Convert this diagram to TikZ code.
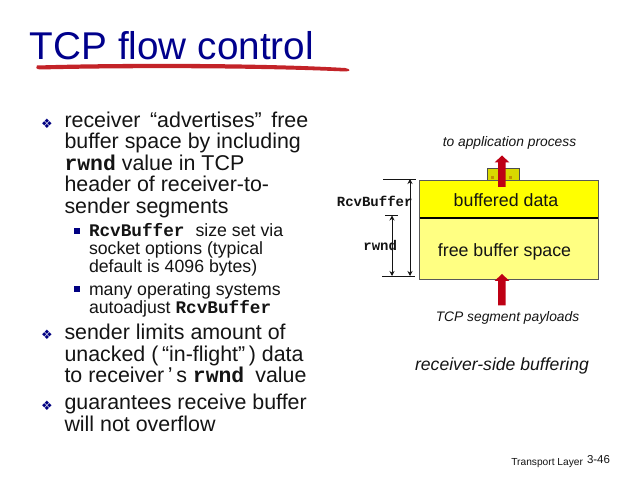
\documentclass[tikz,border=0pt]{standalone}
\usepackage{fontspec}
\setmainfont{Liberation Sans}
\setmonofont{Liberation Mono}
\newfontfamily\symfont{DejaVu Sans}
\usetikzlibrary{arrows.meta}
\definecolor{titleblue}{RGB}{0,0,140}
\definecolor{bulletblue}{RGB}{0,0,130}
\definecolor{underl}{RGB}{195,35,40}
\definecolor{fatred}{RGB}{190,0,20}
\definecolor{bufyellow}{RGB}{255,255,0}
\definecolor{freeyellow}{RGB}{255,255,130}
\definecolor{txt}{RGB}{20,20,20}
\tikzset{
  x=1pt,y=-1pt,
  every node/.style={inner sep=0pt,outer sep=0pt,text=txt},
  titletext/.style={anchor=base west,font=\fontsize{38.7}{40}\selectfont,text=titleblue},
  body/.style={anchor=base west,font=\fontsize{21.4}{22}\selectfont},
  sub/.style={anchor=base west,font=\fontsize{17.7}{19}\selectfont},
  lab/.style={anchor=base,font=\fontsize{13.8}{16}\selectfont\itshape},
  boxlab/.style={anchor=base,font=\fontsize{17.8}{19}\selectfont},
  monolab/.style={anchor=base east,font=\fontsize{14}{15}\selectfont\ttfamily\bfseries},
  bul/.style={anchor=center,text=bulletblue,font=\fontsize{13}{14}\selectfont\symfont},
  sq/.style={fill=bulletblue,draw=none,minimum size=6pt},
  dimline/.style={draw=txt,line width=0.8pt,{Stealth[length=5pt,width=5pt]}-{Stealth[length=5pt,width=5pt]}},
  tick/.style={draw=txt,line width=0.8pt},
}
\newcommand{\mt}[1]{{\ttfamily\bfseries #1}}
\begin{document}
\begin{tikzpicture}
\useasboundingbox (0,0) rectangle (638,478);
\fill[white] (0,0) rectangle (638,478);
\node[titletext] (title) at (30,60) {TCP flow control};
\fill[underl] (37,65.5) .. controls (120,63) and (260,63) .. (345,68) .. controls (351,69) and (351,71.5) .. (345,71.5) .. controls (260,67.5) and (120,67.5) .. (40,69.5) .. controls (36,69.5) and (35,66.5) .. (37,65.5) -- cycle;

\node[bul] (b1) at (47,123.5) {❖};
\node[body] (l1) at (64.5,127.5) {receiver \,“advertises”\, free};
\node[body] (l2) at (64.5,149) {buffer space by including};
\node[body] (l3) at (64.5,170.5) {\mt{rwnd} value in TCP};
\node[body] (l4) at (64.5,192) {header of receiver-to-};
\node[body] (l5) at (64.5,213.5) {sender segments};

\node[sq] (s1) at (77,231.5) {};
\node[sub] (m1) at (89,237) {\mt{RcvBuffer}\hspace{11pt}size set via};
\node[sub] (m2) at (89,255) {socket options (typical};
\node[sub] (m3) at (89,273) {default is 4096 bytes)};
\node[sq] (s2) at (77,289.5) {};
\node[sub] (m4) at (89,296) {many operating systems};
\node[sub] (m5) at (89,314) {autoadjust \mt{RcvBuffer}};

\node[bul] (b2) at (47,335) {❖};
\node[body] (l6) at (64.5,340) {sender limits amount of};
\node[body] (l7) at (64.5,361.5) {unacked (\,“in-flight”\,) data};
\node[body] (l8) at (64.5,383) {to receiver\,’\,s \mt{rwnd}\hspace{11pt}value};
\node[bul] (b3) at (47,406) {❖};
\node[body] (l9) at (64.5,410) {guarantees receive buffer};
\node[body] (l10) at (64.5,431.5) {will not overflow};

% diagram
\node[draw=black!70,fill=bufyellow!85!black,line width=0.6pt,minimum width=32pt,minimum height=12.5pt,anchor=south west] (stub) at (487,180.5) {};
\fill[orange!70!black,opacity=.55] (491,176) rectangle (494,179);
\fill[orange!70!black,opacity=.55] (509,176) rectangle (512,179);
\node[draw=black!65,fill=freeyellow,line width=0.7pt,minimum width=178.5pt,minimum height=61pt,anchor=north west] (free) at (419.5,218) {};
\node[draw=black!65,fill=bufyellow,line width=0.7pt,minimum width=178.5pt,minimum height=37.5pt,anchor=north west] (buf) at (419.5,180.5) {};
\draw[black,line width=1.7pt] (buf.south west) -- (buf.south east);
\node[boxlab] (tbuf) at (506,206.5) {buffered data};
\node[boxlab] (tfree) at (504.5,256.5) {free buffer space};

\fill[fatred] (498,187) -- (498,162.5) -- (494.5,162.5) -- (502,155.5) -- (509.5,162.5) -- (505.5,162.5) -- (505.5,187) -- cycle;
\fill[fatred] (498,305.5) -- (498,281) -- (494.5,281) -- (502,274) -- (509.5,281) -- (505.5,281) -- (505.5,305.5) -- cycle;

\node[lab] (tapp) at (509.5,147) {to application process};
\node[lab] (tseg) at (507.5,321.5) {TCP segment payloads};
\node[anchor=base,font=\fontsize{17.6}{18}\selectfont\itshape] (tside) at (502,370.5) {receiver-side buffering};

\node[monolab] (trcv) at (412.5,207) {RcvBuffer};
\node[monolab] (trw) at (397,251) {rwnd};

\coordinate (a) at (383,179);
\coordinate (b) at (416,179);
\coordinate (c) at (382,276);
\coordinate (d) at (415,276);
\coordinate (e) at (385,215.5);
\coordinate (f) at (398,215.5);
\coordinate (g) at (410,179);
\coordinate (h) at (410,276);
\coordinate (i) at (392,215.5);
\coordinate (j) at (392,276);
\draw[tick] (a) -- (b);
\draw[tick] (c) -- (d);
\draw[tick] (e) -- (f);
\draw[dimline] (g) -- (h);
\draw[dimline] (i) -- (j);

\node[anchor=base east,font=\fontsize{10.2}{13}\selectfont] (foot) at (583,466) {Transport Layer};
\node[anchor=base west,font=\fontsize{11.5}{13}\selectfont] (num) at (587,464) {3-46};
\end{tikzpicture}
\end{document}
